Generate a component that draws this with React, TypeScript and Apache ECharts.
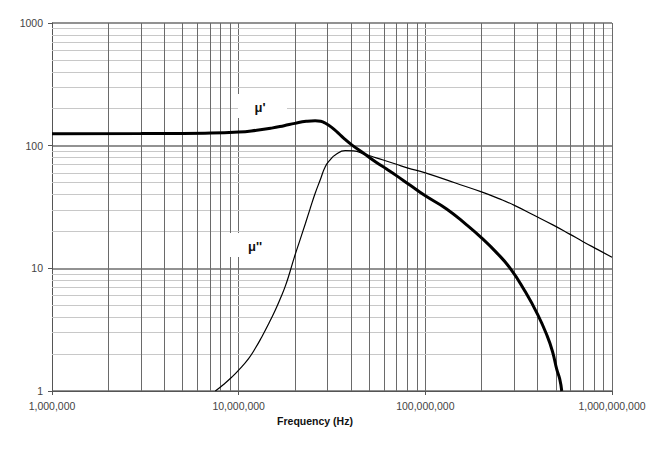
import React, { useEffect, useRef } from 'react';
import * as echarts from 'echarts';

// mu' (thick) – frequency in Hz, permeability
const muRealFreq = [1e6, 3e6, 6.6e6, 1e7, 1.25e7, 1.5e7, 1.75e7, 2e7, 2.3e7, 2.57e7, 2.75e7, 2.9e7, 3.15e7, 3.43e7, 3.7e7, 4.05e7, 4.67e7, 5.4e7, 6.2e7, 7e7, 8.3e7, 1e8, 1.3e8, 1.67e8, 2e8, 2.4e8, 2.85e8, 3.4e8, 4e8, 4.5e8, 4.8e8, 5.06e8, 5.25e8, 5.38e8];
const muRealVal = [125, 125.5, 126.5, 129, 133.5, 139, 145.5, 152, 158, 160, 158, 153, 141, 126, 113, 101, 86.7, 74, 64.5, 57, 47.5, 39, 30.5, 22.5, 17.7, 13.5, 10, 6.6, 4.2, 2.8, 2.1, 1.5, 1.25, 1];

// mu'' (thin)
const muImagFreq = [7.5e6, 8.3e6, 9.2e6, 1e7, 1.13e7, 1.23e7, 1.33e7, 1.45e7, 1.57e7, 1.67e7, 1.78e7, 1.88e7, 1.99e7, 2.13e7, 2.28e7, 2.42e7, 2.57e7, 2.74e7, 2.91e7, 3.1e7, 3.29e7, 3.72e7, 4.12e7, 4.76e7, 5.4e7, 6e7, 7e7, 8e7, 1e8, 1.45e8, 2e8, 2.5e8, 3e8, 3.8e8, 4.85e8, 5.9e8, 7e8, 8.4e8, 1e9];
const muImagVal = [1, 1.13, 1.3, 1.48, 1.84, 2.24, 2.76, 3.55, 4.56, 5.65, 7.2, 9.3, 12.4, 17, 23.3, 31, 40.9, 53, 67.4, 77, 84, 91, 90.6, 85, 80, 76, 70.5, 66, 60, 49.6, 42, 36.8, 32.6, 27.2, 22.5, 19.1, 16.5, 14.2, 12.3];

const xMinor = [2e6, 3e6, 4e6, 5e6, 6e6, 7e6, 8e6, 9e6, 2e7, 3e7, 4e7, 5e7, 6e7, 7e7, 8e7, 9e7, 2e8, 3e8, 4e8, 5e8, 6e8, 7e8, 8e8, 9e8];
const yMinor = [2, 3, 4, 5, 6, 7, 8, 9, 20, 30, 40, 50, 60, 70, 80, 90, 200, 300, 400, 500, 600, 700, 800, 900];

const FONT = "'Liberation Sans', Arial, sans-serif";

export default function App() {
  const ref = useRef<HTMLDivElement>(null);
  useEffect(() => {
    if (!ref.current) return;
    const chart = echarts.init(ref.current, undefined, { renderer: 'svg' });
    const zip = (f: number[], v: number[]) => f.map((x, i) => [x, v[i]]);
    chart.setOption({
      animation: false,
      backgroundColor: '#fff',
      grid: { left: 52, top: 23, width: 560, height: 368 },
      xAxis: {
        type: 'log', logBase: 10, min: 1e6, max: 1e9,
        axisLine: { show: true, lineStyle: { color: '#555', width: 1 } },
        axisTick: { show: true, length: 4, lineStyle: { color: '#555' } },
        axisLabel: { color: '#444', fontFamily: FONT, fontSize: 10.5, margin: 9, formatter: (v: number) => Number(v).toLocaleString('en-US') },
        splitLine: { show: true, lineStyle: { color: '#6a6a6a', width: 1 } },
      },
      yAxis: {
        type: 'log', logBase: 10, min: 1, max: 1000,
        axisLine: { show: true, lineStyle: { color: '#555', width: 1 } },
        axisTick: { show: true, length: 4, lineStyle: { color: '#555' } },
        axisLabel: { color: '#444', fontFamily: FONT, fontSize: 10.5, margin: 9, formatter: (v: number) => String(Math.round(v)) },
        splitLine: { show: true, lineStyle: { color: '#6e6e6e', width: 1.5 } },
      },
      series: [
        {
          name: 'grid', type: 'line', data: [], z: 1, silent: true,
          markLine: {
            silent: true, symbol: 'none', animation: false,
            label: { show: false },
            lineStyle: { type: 'solid', color: '#6a6a6a', width: 1 },
            data: [
              ...yMinor.map(v => ({ yAxis: v, lineStyle: { type: 'solid', color: '#c8c8c8', width: 1 } })),
              ...xMinor.map(v => ({ xAxis: v })),
            ],
          },
        },
        {
          name: "μ'", type: 'line', data: zip(muRealFreq, muRealVal), smooth: 0.5, showSymbol: false, z: 5,
          lineStyle: { color: '#000', width: 3 },
        },
        {
          name: "μ''", type: 'line', data: zip(muImagFreq, muImagVal), smooth: 0.5, showSymbol: false, z: 5,
          lineStyle: { color: '#000', width: 1.2 },
        },
      ],
      graphic: [
        { type: 'rect', z: 100, shape: { x: 238, y: 94, width: 49, height: 24 }, style: { fill: '#fff' } },
        { type: 'text', z: 101, x: 260, y: 107, style: { text: "μ'", font: `bold 13px ${FONT}`, fill: '#111', textAlign: 'center', textVerticalAlign: 'middle' } },
        { type: 'rect', z: 100, shape: { x: 228, y: 233, width: 54, height: 24 }, style: { fill: '#fff' } },
        { type: 'text', z: 101, x: 255, y: 246, style: { text: "μ''", font: `bold 13px ${FONT}`, fill: '#111', textAlign: 'center', textVerticalAlign: 'middle' } },
        { type: 'text', z: 101, x: 315, y: 421, style: { text: 'Frequency (Hz)', font: `bold 10.5px ${FONT}`, fill: '#111', textAlign: 'center', textVerticalAlign: 'middle' } },
      ],
    });
    return () => chart.dispose();
  }, []);
  return <div ref={ref} style={{ position: 'absolute', left: 0, top: 0, width: 658, height: 450 }} />;
}
